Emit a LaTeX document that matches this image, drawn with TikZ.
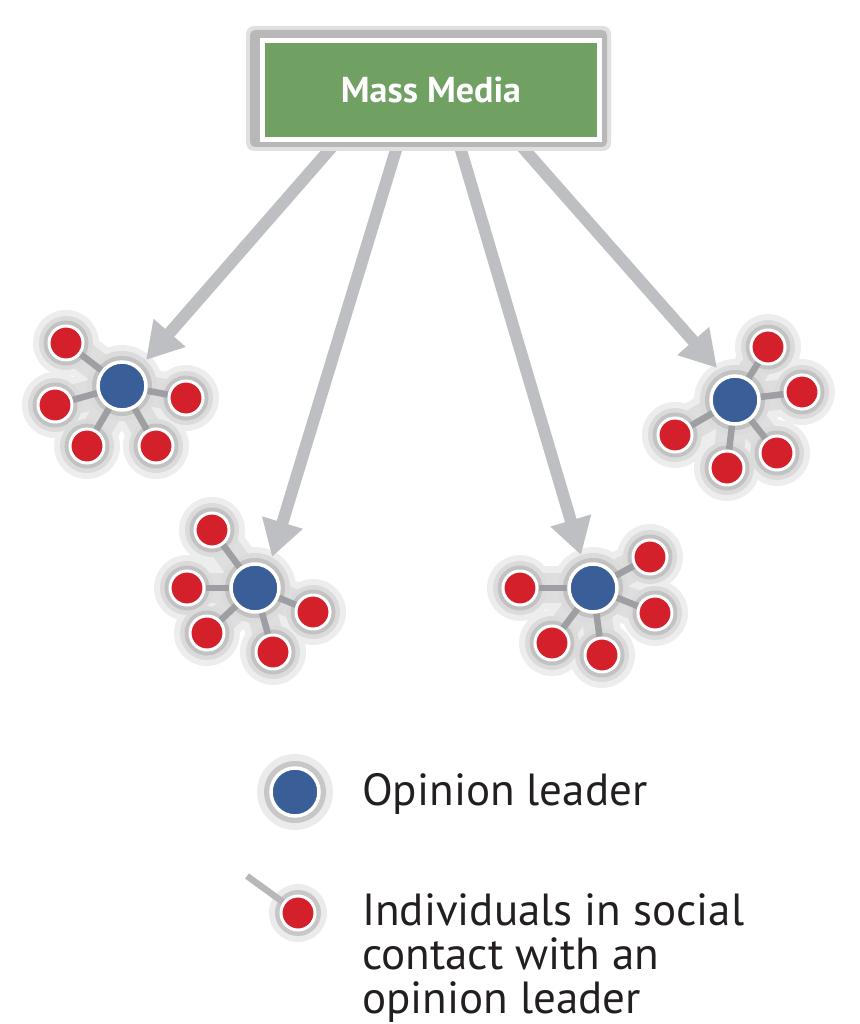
\documentclass[tikz,border=0pt]{standalone}
\usepackage{fontspec}
\setmainfont{PT Sans}
\usetikzlibrary{arrows.meta}
\definecolor{leaderblue}{RGB}{58,94,152}
\definecolor{indivred}{RGB}{212,32,42}
\definecolor{mediagreen}{RGB}{112,160,98}
\definecolor{arrowgray}{RGB}{190,191,195}
\definecolor{linkgray}{RGB}{158,159,162}
\definecolor{textblack}{RGB}{35,31,32}
\pgfdeclarelayer{bg}
\pgfdeclarelayer{mid}
\pgfsetlayers{bg,mid,main}
\tikzset{
  leader/.style={circle, fill=leaderblue, draw=white, line width=3.5pt, minimum size=48pt, inner sep=0pt},
  indiv/.style={circle, fill=indivred, draw=white, line width=3pt, minimum size=34pt, inner sep=0pt},
  link/.style={draw=linkgray, line width=6.5pt},
  medarrow/.style={draw=arrowgray, line width=12pt, -{Triangle[width=40pt,length=36pt]}},
  mediabox/.style={rectangle, fill=mediagreen, draw=white, line width=5pt, minimum width=337pt, minimum height=99pt, text=white, font=\bfseries\fontsize{36}{36}\selectfont},
  legtext/.style={text=textblack, font=\fontsize{45}{44}\selectfont, inner sep=0pt, align=left}
}
\newcommand{\clusterhalo}[2]{%
  \begin{pgfonlayer}{bg}
    \foreach \n in {#2}{\draw[black!7, line width=44pt, line cap=round] (#1.center) -- (\n.center);}
    \fill[black!7] (#1.center) circle (41pt);
    \foreach \n in {#2}{\fill[black!7] (\n.center) circle (33pt);}
    \foreach \n in {#2}{\draw[black!13, line width=30pt, line cap=round] (#1.center) -- (\n.center);}
    \fill[black!14] (#1.center) circle (35pt);
    \foreach \n in {#2}{\fill[black!14] (\n.center) circle (27pt);}
    \fill[black!24] (#1.center) circle (30pt);
    \foreach \n in {#2}{\fill[black!24] (\n.center) circle (22.5pt);}
  \end{pgfonlayer}}
\begin{document}
\begin{tikzpicture}[x=1pt,y=-1pt]
\useasboundingbox (0,0) rectangle (859,1024);

% Mass media box
\fill[black!12, rounded corners=8pt] (246,26) rectangle (611,151);
\fill[black!28, rounded corners=5pt] (250,30) rectangle (607,147);
\node[mediabox] (media) at (431,90) {Mass Media};

% Cluster 1
\node[leader] (L1) at (122,386) {};
\node[indiv] (L1a) at (66,343) {};
\node[indiv] (L1b) at (55,405) {};
\node[indiv] (L1c) at (87,446) {};
\node[indiv] (L1d) at (156,446) {};
\node[indiv] (L1e) at (186,398) {};
% Cluster 2
\node[leader] (L2) at (255,588) {};
\node[indiv] (L2a) at (212,530) {};
\node[indiv] (L2b) at (187,588) {};
\node[indiv] (L2c) at (207,633) {};
\node[indiv] (L2d) at (273,652) {};
\node[indiv] (L2e) at (313,612) {};
% Cluster 3
\node[leader] (L3) at (593,588) {};
\node[indiv] (L3a) at (520,588) {};
\node[indiv] (L3b) at (650,557) {};
\node[indiv] (L3c) at (655,613) {};
\node[indiv] (L3d) at (552,643) {};
\node[indiv] (L3e) at (602,655) {};
% Cluster 4
\node[leader] (L4) at (735,400) {};
\node[indiv] (L4a) at (768,347) {};
\node[indiv] (L4b) at (802,392) {};
\node[indiv] (L4c) at (675,435) {};
\node[indiv] (L4d) at (727,468) {};
\node[indiv] (L4e) at (777,453) {};

\clusterhalo{L1}{L1a,L1b,L1c,L1d,L1e}
\clusterhalo{L2}{L2a,L2b,L2c,L2d,L2e}
\clusterhalo{L3}{L3a,L3b,L3c,L3d,L3e}
\clusterhalo{L4}{L4a,L4b,L4c,L4d,L4e}

% arrow endpoints
\coordinate (s1) at (338,140);
\coordinate (s2) at (399,140);
\coordinate (s3) at (458,140);
\coordinate (s4) at (516,140);
\coordinate (t1) at (146,360);
\coordinate (t2) at (272,557);
\coordinate (t3) at (581,555);
\coordinate (t4) at (717,368);

\begin{pgfonlayer}{mid}
  \draw[medarrow] (s1) -- (t1);
  \draw[medarrow] (s2) -- (t2);
  \draw[medarrow] (s3) -- (t3);
  \draw[medarrow] (s4) -- (t4);
  \foreach \c in {1,2,3,4}{
    \foreach \k in {a,b,c,d,e}{\draw[link] (L\c) -- (L\c\k);}
  }
\end{pgfonlayer}

% Legend
\node[leader] (legL) at (295,792) {};
\node[indiv] (legI) at (298,913) {};
\coordinate (legstub) at (247,876);
\begin{pgfonlayer}{bg}
  \fill[black!8] (legL.center) circle (38pt);
  \fill[black!22] (legL.center) circle (31pt);
  \fill[black!8] (legI.center) circle (29pt);
  \fill[black!22] (legI.center) circle (23pt);
\end{pgfonlayer}
\begin{pgfonlayer}{mid}
  \draw[link, draw=black!28] (legstub) -- (legI);
\end{pgfonlayer}
\node[legtext, anchor=base west] (legT1) at (362,805) {Opinion leader};
\node[legtext, anchor=base west] (legT2) at (362,1013) {Individuals in social\\contact with an\\opinion leader};
\end{tikzpicture}
\end{document}
